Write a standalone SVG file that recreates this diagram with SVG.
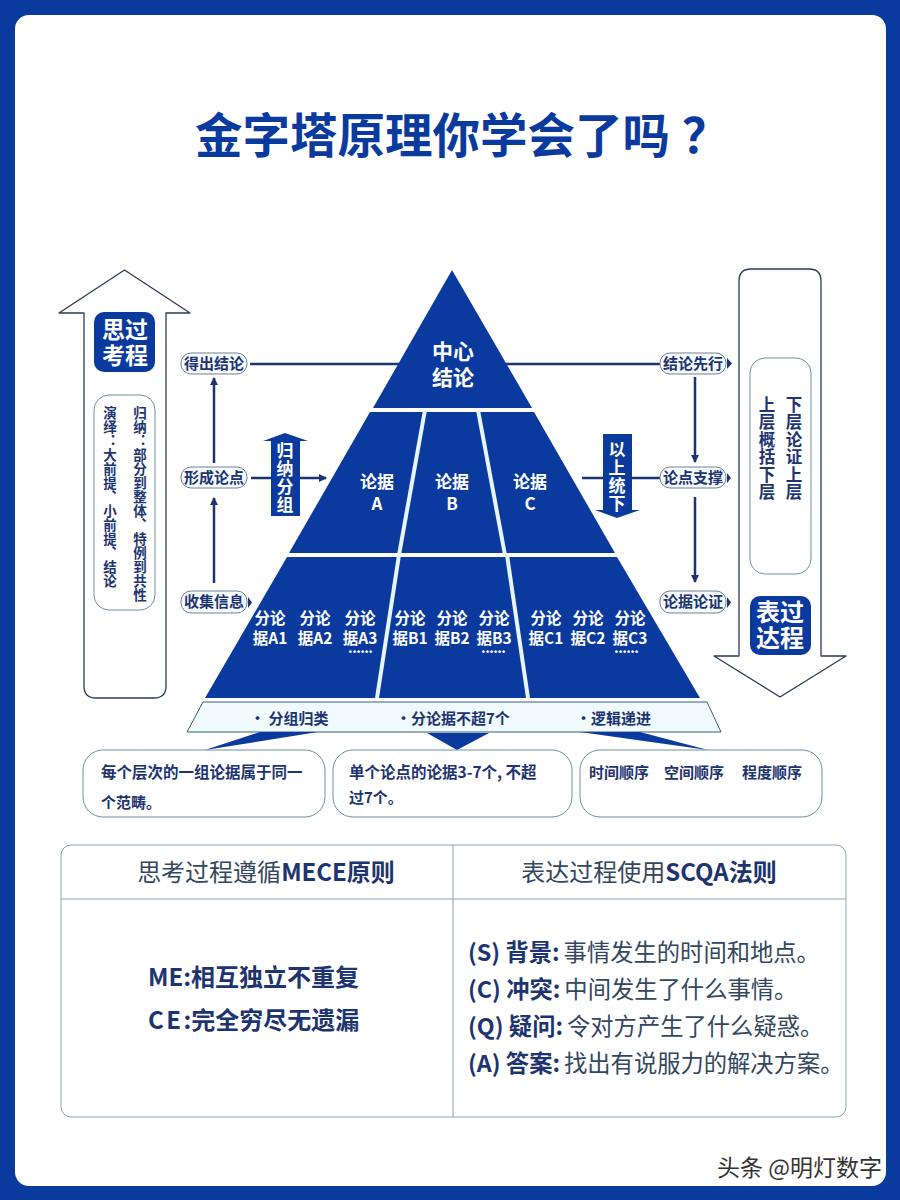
<svg xmlns="http://www.w3.org/2000/svg" width="900" height="1200" viewBox="0 0 900 1200">
<style>
text{font-family:"Noto Sans CJK SC","Liberation Sans",sans-serif;}
.w{fill:#fff;font-weight:700;text-anchor:middle;}
.pill{fill:#f6fbfe;stroke:#6f8196;stroke-width:1;}
.pt{fill:#1d3470;font-weight:700;font-size:15px;text-anchor:middle;}
.arr{fill:#fff;stroke:#2a3b55;stroke-width:1.3;stroke-linejoin:round;}
.box{fill:#fff;stroke:#6f8f9c;stroke-width:1;}
.c{fill:none;stroke:#1b3570;stroke-width:2.5;}
.v{writing-mode:vertical-rl;font-weight:700;}
.vt{fill:#1d3470;font-size:13.500px;letter-spacing:.5px;}
.vr{fill:#1d3470;font-size:16.500px;letter-spacing:1px;}
.vw{fill:#fff;font-size:17px;letter-spacing:1px;}
.d{stroke:#e6f4fb;stroke-width:4;}
.bt{fill:#1d3470;font-weight:700;font-size:15px;}
.th{font-size:24px;fill:#33475f;text-anchor:middle;}
.rt{font-size:23.300px;fill:#33475f;}
.mt{font-size:24px;}
.b{font-weight:700;fill:#1d3470;}
.dots{font-family:"Liberation Sans",sans-serif;font-size:9px;letter-spacing:.9px;fill:#fff;font-weight:700;text-anchor:middle;}
</style>
<defs>
<marker id="ah" viewBox="0 0 8 8" refX="7" refY="4" markerWidth="3.4" markerHeight="3.4" orient="auto" markerUnits="strokeWidth"><path d="M0 0L8 4L0 8Z" fill="#1b3570"/></marker>
</defs>
<rect width="900" height="1200" fill="#0b3a9e"/>
<rect x="15" y="15" width="871" height="1171" rx="14" fill="#fff"/>
<text x="195" y="153" font-size="47.500" font-weight="700" fill="#0b3a9e">金字塔原理你学会了吗<tspan dx="12">？</tspan></text>

<g id="think-arrow">
<path class="arr" d="M124.500 270L190 313H166V686Q166 698 154 698H96Q84 698 84 686V313H59Z"/>
<rect x="94" y="312" width="61" height="60" rx="10" fill="#0b3a9e"/>
<text class="w" font-size="23"><tspan x="125" y="338">思过</tspan><tspan x="125" y="364">考程</tspan></text>
<rect class="box" x="94" y="395" width="61" height="215" rx="15"/>
<text class="v vt" x="140" y="406">归纳：部分到整体、特例到共性</text>
<text class="v vt" x="110" y="406">演绎：大前提、小前提、结论</text>
</g>

<g id="express-arrow">
<path class="arr" d="M751 269H809Q821 269 821 281V656H846L780 697L714 656H739V281Q739 269 751 269Z"/>
<rect class="box" x="750" y="358" width="61" height="216" rx="15"/>
<text class="v vr" x="794" y="396">下层论证上层</text>
<text class="v vr" x="767" y="396">上层概括下层</text>
<rect x="750" y="596" width="61" height="59" rx="10" fill="#0b3a9e"/>
<text class="w" font-size="24"><tspan x="780" y="621">表过</tspan><tspan x="780" y="647">达程</tspan></text>
</g>

<g id="connectors">
<path class="c" d="M250 364H400"/>
<path class="c" d="M506 364H660"/>
<path class="c" d="M214 463V378" marker-end="url(#ah)"/>
<path class="c" d="M214 583V498" marker-end="url(#ah)"/>
<path class="c" d="M695 377V462" marker-end="url(#ah)"/>
<path class="c" d="M695 497V582" marker-end="url(#ah)"/>
<path class="c" d="M251 478H326" marker-end="url(#ah)"/>
<path class="c" d="M582 478H660"/>
<path d="M248 597V608L252 602.500Z" fill="#1b3570"/>
<path d="M727 358V369L732 363.500Z" fill="#1b3570"/>
<path d="M727 473V483L731 478Z" fill="#1b3570"/>
<path d="M727 597V608L731 602.500Z" fill="#1b3570"/>
</g>

<g id="pyramid">
<path d="M452 270L532 408H373Z" fill="#0b3a9e"/>
<path d="M370 412H534L615 553H289Z" fill="#0b3a9e"/>
<path d="M287 557H617L700 698H205Z" fill="#0b3a9e"/>
<path class="d" d="M425 410L399 555"/>
<path class="d" d="M478 410L505 555"/>
<path class="d" d="M399 555L377 698"/>
<path class="d" d="M507 555L528 698"/>
<text class="w" font-size="21"><tspan x="453" y="359">中心</tspan><tspan x="453" y="385">结论</tspan></text>
<text class="w" font-size="17"><tspan x="377" y="488">论据</tspan><tspan x="377" y="510">A</tspan></text>
<text class="w" font-size="17"><tspan x="452" y="488">论据</tspan><tspan x="452" y="510">B</tspan></text>
<text class="w" font-size="17"><tspan x="530" y="488">论据</tspan><tspan x="530" y="510">C</tspan></text>
<text class="w" font-size="15.500"><tspan x="270" y="624">分论</tspan><tspan x="270" y="644">据A1</tspan></text>
<text class="w" font-size="15.500"><tspan x="315" y="624">分论</tspan><tspan x="315" y="644">据A2</tspan></text>
<text class="w" font-size="15.500"><tspan x="360" y="624">分论</tspan><tspan x="360" y="644">据A3</tspan></text>
<text class="w" font-size="15.500"><tspan x="410" y="624">分论</tspan><tspan x="410" y="644">据B1</tspan></text>
<text class="w" font-size="15.500"><tspan x="452" y="624">分论</tspan><tspan x="452" y="644">据B2</tspan></text>
<text class="w" font-size="15.500"><tspan x="494" y="624">分论</tspan><tspan x="494" y="644">据B3</tspan></text>
<text class="w" font-size="15.500"><tspan x="546" y="624">分论</tspan><tspan x="546" y="644">据C1</tspan></text>
<text class="w" font-size="15.500"><tspan x="588" y="624">分论</tspan><tspan x="588" y="644">据C2</tspan></text>
<text class="w" font-size="15.500"><tspan x="630" y="624">分论</tspan><tspan x="630" y="644">据C3</tspan></text>
<text class="dots" x="361" y="655">••••••</text>
<text class="dots" x="494" y="655">••••••</text>
<text class="dots" x="627" y="655">••••••</text>
</g>

<g id="induct-arrow">
<path d="M285 433L308 441H300V516H271V441H263Z" fill="#0b3a9e"/>
<text class="v vw" x="285" y="442">归纳分组</text>
</g>
<g id="deduct-arrow">
<path d="M603 434H632V510H640L617 518L595 510H603Z" fill="#0b3a9e"/>
<text class="v vw" x="617" y="441">以上统下</text>
</g>

<g id="pill-draw"><rect class="pill" x="181" y="353" width="66" height="21" rx="10"/><text class="pt" x="214" y="369">得出结论</text></g>
<g id="pill-form"><rect class="pill" x="181" y="467" width="66" height="21" rx="10"/><text class="pt" x="214" y="483">形成论点</text></g>
<g id="pill-collect"><rect class="pill" x="181" y="591" width="66" height="22" rx="10"/><text class="pt" x="214" y="607">收集信息</text></g>
<g id="pill-first"><rect class="pill" x="660" y="353" width="66" height="21" rx="10"/><text class="pt" x="693" y="369">结论先行</text></g>
<g id="pill-support"><rect class="pill" x="660" y="467" width="66" height="21" rx="10"/><text class="pt" x="693" y="483">论点支撑</text></g>
<g id="pill-proof"><rect class="pill" x="660" y="591" width="66" height="22" rx="10"/><text class="pt" x="693" y="607">论据论证</text></g>

<g id="band">
<path d="M203 702H707L721 732H187Z" fill="#f1fafd" stroke="#35606f" stroke-width="1"/>
<text class="bt" x="250" y="724">• 分组归类</text>
<text class="bt" x="396" y="724">•分论据不超7个</text>
<text class="bt" x="576" y="724">•逻辑递进</text>
<path d="M205 750L260 732H318Z" fill="#0b3a9e"/>
<path d="M427 733H489L457 750Z" fill="#0b3a9e"/>
<path d="M580 732H640L708 750Z" fill="#0b3a9e"/>
</g>

<g id="box-1"><rect class="box" x="83" y="750" width="242" height="67" rx="20"/>
<text class="bt" x="101" y="778" style="font-size:15.500px">每个层次的一组论据属于同一</text><text class="bt" x="101" y="808">个范畴。</text></g>
<g id="box-2"><rect class="box" x="333" y="750" width="239" height="67" rx="20"/>
<text class="bt" x="349" y="778" style="font-size:15.500px">单个论点的论据3-7个, 不超</text><text class="bt" x="349" y="803">过7个。</text></g>
<g id="box-3"><rect class="box" x="580" y="750" width="242" height="67" rx="20"/>
<text class="bt" x="589" y="778">时间顺序</text><text class="bt" x="664" y="778">空间顺序</text><text class="bt" x="742" y="778">程度顺序</text></g>

<g id="table">
<rect x="61" y="845" width="785" height="272" rx="10" fill="#fff" stroke="#8ea2b4" stroke-width="1"/>
<path d="M61 899H846M453 845V1117" stroke="#8ea2b4" stroke-width="1" fill="none"/>
<text class="th" x="266" y="881">思考过程遵循<tspan class="b">MECE原则</tspan></text>
<text class="th" x="649" y="881">表达过程使用<tspan class="b">SCQA法则</tspan></text>
<text class="mt b" x="148" y="986">ME:相互独立不重复</text>
<text class="mt b" x="148" y="1029" style="word-spacing:-3px">C E :完全穷尽无遗漏</text>
<text class="rt" x="468" y="961"><tspan class="b">(S) 背景:</tspan><tspan dx="4">事情发生的时间和地点。</tspan></text>
<text class="rt" x="468" y="998"><tspan class="b">(C) 冲突:</tspan><tspan dx="4">中间发生了什么事情。</tspan></text>
<text class="rt" x="468" y="1035"><tspan class="b">(Q) 疑问:</tspan><tspan dx="4">令对方产生了什么疑惑。</tspan></text>
<text class="rt" x="468" y="1072"><tspan class="b">(A) 答案:</tspan><tspan dx="4">找出有说服力的解决方案。</tspan></text>
</g>
<text id="watermark" x="882" y="1176" font-size="23" fill="#333" text-anchor="end">头条 @明灯数字</text>
</svg>
